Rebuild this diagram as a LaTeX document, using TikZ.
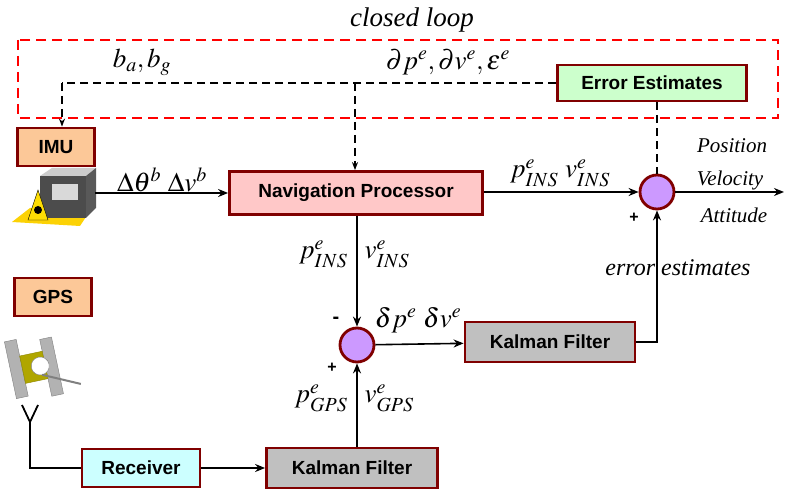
\documentclass[tikz,border=0pt]{standalone}
\usepackage{mathptmx}
\usepackage{fontspec}
\setmainfont{Liberation Serif}
\newfontfamily\boxfont{Liberation Sans}
\usetikzlibrary{arrows.meta}
\definecolor{bord}{HTML}{800000}
\definecolor{orng}{HTML}{FCC898}
\definecolor{pnk}{HTML}{FFC8C8}
\definecolor{grn}{HTML}{CCFFCC}
\definecolor{cyn}{HTML}{CCFFFF}
\definecolor{gry}{HTML}{C0C0C0}
\definecolor{purp}{HTML}{CC99FF}
\begin{document}
\begin{tikzpicture}[x=1pt,y=-1pt,
  box/.style={draw=bord,line width=2.8pt,inner sep=0pt,font=\boxfont\bfseries\fontsize{19}{22}\selectfont},
  sumc/.style={circle,draw=bord,line width=2.8pt,fill=purp,minimum size=34pt,inner sep=0pt},
  arr/.style={line width=1.6pt,-{Stealth[length=10pt,width=8pt]}},
  dsh/.style={line width=2pt,dash pattern=on 8pt off 5pt},
  lab/.style={font=\fontsize{27}{30}\selectfont},
  itl/.style={font=\fontsize{21}{24}\selectfont\itshape}]
\useasboundingbox (0,0) rectangle (790,502);
\fill[white] (0,0) rectangle (790,502);
\node[font=\fontsize{27}{30}\selectfont\itshape] (cl) at (412,20) {closed loop};
\draw[red,line width=2pt,dash pattern=on 10pt off 6pt] (18,40) rectangle (778,118);
% boxes
\node[box,fill=grn,minimum width=189pt,minimum height=36pt] (ee) at (652,83) {Error Estimates};
\node[box,fill=orng,minimum width=77pt,minimum height=38pt] (imu) at (56,147) {IMU};
\node[box,fill=pnk,minimum width=253pt,minimum height=43pt] (nav) at (356,193) {Navigation Processor};
\node[box,fill=orng,minimum width=77pt,minimum height=38pt] (gps) at (53,297) {GPS};
\node[box,fill=gry,minimum width=170pt,minimum height=40pt] (kf1) at (550,342) {Kalman Filter};
\node[box,fill=cyn,minimum width=118pt,minimum height=38pt] (rec) at (141,468) {Receiver};
\node[box,fill=gry,minimum width=171pt,minimum height=40pt] (kf2) at (352,468) {Kalman Filter};
\node[sumc] (s1) at (657,192) {};
\node[sumc] (s2) at (357,345) {};
% IMU icon
\node[inner sep=0pt,minimum width=80pt,minimum height=58pt] (icon) at (55,198) {};
\fill[yellow!70!orange] (12,222) -- (30,208) -- (92,208) -- (80,226) -- cycle;
\fill[gray!60!black] (40,176) rectangle (86,218);
\fill[gray!40] (40,176) -- (52,168) -- (96,168) -- (86,176) -- cycle;
\fill[gray!70!black] (86,176) -- (96,168) -- (96,208) -- (86,218) -- cycle;
\fill[gray!30] (52,184) rectangle (78,200);
\fill[yellow!80!orange,draw=black] (28,220) -- (38,190) -- (48,220) -- cycle;
\fill[black] (38,210) circle (4pt);
% satellite icon
\node[inner sep=0pt,minimum width=75pt,minimum height=70pt] (sat) at (42,365) {};
\begin{scope}[rotate around={12:(40,365)}]
\fill[gray!60,draw=gray] (10,335) rectangle (22,393);
\fill[gray!60,draw=gray] (45,340) rectangle (57,398);
\fill[olive!70!yellow,draw=olive] (22,352) rectangle (45,380);
\fill[white,draw=gray] (40,366) circle (9pt);
\draw[gray,line width=2pt] (40,375) -- (76,392);
\end{scope}
% antenna
\coordinate (ant) at (30,422);
\draw[line width=1.8pt] (22,405) -- (ant) -- (38,405);
\draw[line width=1.8pt] (ant) |- (rec.west);
% connectors
\draw[arr] (rec) -- (kf2);
\draw[arr] (kf2.north -| s2) -- (s2);
\draw[arr] (nav.south -| s2) -- (s2);
\draw[arr] (s2) -- (kf1);
\draw[arr] (kf1.east) -| (s1.south);
\draw[arr] (icon.east |- nav) -- (nav);
\draw[arr] (nav.east |- s1) -- (s1);
\coordinate (out) at (784,192);
\draw[arr] (s1) -- (out);
\coordinate (c1) at (62,83);
\coordinate (c2) at (355,83);
\draw[dsh] (ee.west) -- (c1);
\draw[dsh,-{Stealth[length=8pt,width=6pt]}] (c1) -- (imu.north -| c1);
\draw[dsh,-{Stealth[length=8pt,width=6pt]}] (c2) -- (nav.north -| c2);
\draw[dsh] (ee.south -| s1) -- (s1);
% labels
\node[lab] at (142,62) {$b_a,b_g$};
\node[lab] at (448,62) {$\partial p^e,\partial v^e,\varepsilon^e$};
\node[lab] at (162,180) {$\Delta\theta^b\ \Delta v^b$};
\node[lab] at (560,173) {$p^e_{INS}\ v^e_{INS}$};
\node[lab,anchor=east] at (351,254) {$p^e_{INS}$};
\node[lab,anchor=west] at (361,254) {$v^e_{INS}$};
\node[lab,anchor=east] at (351,398) {$p^e_{GPS}$};
\node[lab,anchor=west] at (361,398) {$v^e_{GPS}$};
\node[lab] at (418,320) {$\delta p^e\ \delta v^e$};
\node[itl] at (732,146) {Position};
\node[itl] at (730,180) {Velocity};
\node[itl] at (734,215) {Attitude};
\node[font=\fontsize{24}{26}\selectfont\itshape] at (678,268) {error estimates};
\node[font=\boxfont\bfseries\fontsize{16}{18}\selectfont] at (634,218) {+};
\node[font=\boxfont\bfseries\fontsize{20}{18}\selectfont] at (336,320) {-};
\node[font=\boxfont\bfseries\fontsize{16}{18}\selectfont] at (332,368) {+};
\end{tikzpicture}
\end{document}
